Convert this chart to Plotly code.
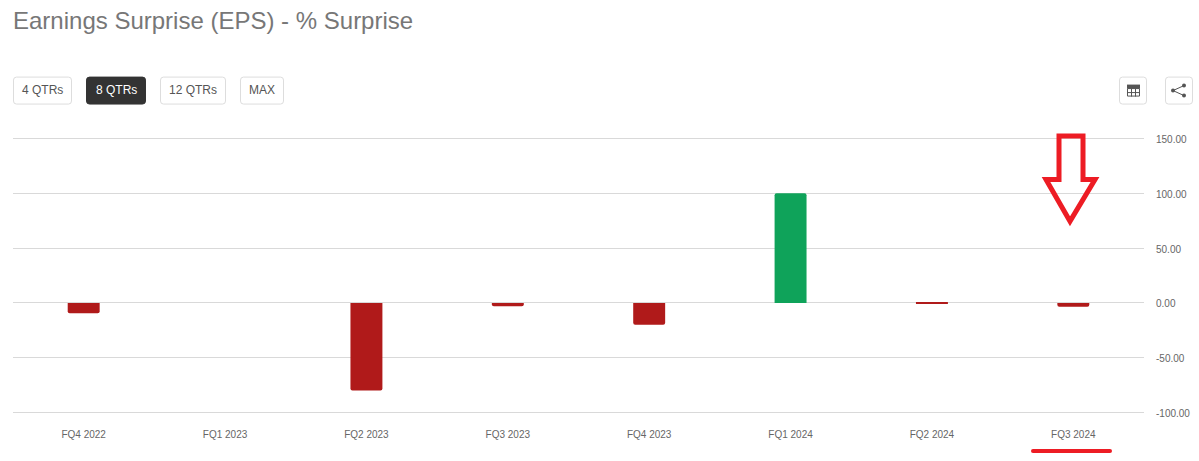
import plotly.graph_objects as go

quarters = ['FQ4 2022', 'FQ1 2023', 'FQ2 2023', 'FQ3 2023',
            'FQ4 2023', 'FQ1 2024', 'FQ2 2024', 'FQ3 2024']
surprise = [-9.5, None, -80, -3, -20, 100, -0.5, -3.5]
y_ticks = [150, 100, 50, 0, -50, -100]
y_labels = ['150.00', '100.00', '50.00', '0.00', '-50.00', '-100.00']
buttons = ['4 QTRs', '8 QTRs', '12 QTRs', 'MAX']

W, H = 1199, 461
# plot area runs a little past the outer gridlines, plotly drops gridlines on the range edge
LEFT, RIGHT, TOP, BOTTOM = 13, 1144, 132.5, 418
FONT = 'Liberation Sans'
RED = '#ed1c24'


# page pixels to paper coordinates
def px(x):
    return (x - LEFT) / (RIGHT - LEFT)


def py(y):
    return (BOTTOM - y) / (BOTTOM - TOP)


def pt(x, y):
    return f'{px(x):.5f},{py(y):.5f}'


def round_rect(x0, y0, x1, y1, r=3):
    return (f'M{pt(x0 + r, y0)} L{pt(x1 - r, y0)} Q{pt(x1, y0)} {pt(x1, y0 + r)} '
            f'L{pt(x1, y1 - r)} Q{pt(x1, y1)} {pt(x1 - r, y1)} '
            f'L{pt(x0 + r, y1)} Q{pt(x0, y1)} {pt(x0, y1 - r)} '
            f'L{pt(x0, y0 + r)} Q{pt(x0, y0)} {pt(x0 + r, y0)} Z')


def polygon(points):
    return 'M' + ' L'.join(pt(x, y) for x, y in points) + ' Z'


def path_shape(path, fill='rgba(0,0,0,0)', line='rgba(0,0,0,0)', width=1):
    return dict(type='path', xref='paper', yref='paper', path=path,
                fillcolor=fill, line=dict(color=line, width=width))


def line_shape(x0, y0, x1, y1, color, width):
    return dict(type='line', xref='paper', yref='paper',
                x0=px(x0), y0=py(y0), x1=px(x1), y1=py(y1),
                line=dict(color=color, width=width))


def circle_shape(cx, cy, r, color):
    return dict(type='circle', xref='paper', yref='paper',
                x0=px(cx - r), y0=py(cy - r), x1=px(cx + r), y1=py(cy + r),
                fillcolor=color, line=dict(width=0))


def text_note(x, y, text, size, color, anchor='center'):
    return dict(xref='paper', yref='paper', x=px(x), y=py(y), text=text,
                showarrow=False, xanchor=anchor, yanchor='middle',
                font=dict(family=FONT, size=size, color=color))


colors = ['#0fa35a' if v is not None and v > 0 else '#b01a1a' for v in surprise]

fig = go.Figure()
fig.add_trace(go.Bar(
    x=quarters,
    y=surprise,
    width=0.226,
    marker=dict(color=colors, line=dict(width=0)),
    hoverinfo='x+y'
))

shapes = []
annotations = [text_note(11, 20, 'Earnings Surprise (EPS) - % Surprise', 24, '#777777', 'left')]

# Quarter range buttons
button_edges = [(13, 72), (86, 146), (160, 226), (240, 284)]
for label, (x0, x1) in zip(buttons, button_edges):
    active = label == '8 QTRs'
    shapes.append(path_shape(round_rect(x0 + 0.5, 76.5, x1 - 0.5, 103.5),
                             fill='#333333' if active else '#ffffff',
                             line='#333333' if active else '#dddddd'))
    annotations.append(text_note((x0 + x1) / 2, 89.5, label, 12,
                                 '#ffffff' if active else '#555555'))

# Table and share icons
shapes.append(path_shape(round_rect(1119.5, 76.5, 1146.5, 103.5), fill='#ffffff', line='#dddddd'))
shapes.append(path_shape(round_rect(1165.5, 76.5, 1192.5, 103.5), fill='#ffffff', line='#dddddd'))
shapes.append(path_shape(polygon([(1127, 84), (1140, 84), (1140, 88), (1127, 88)]), fill='#555555'))
shapes.append(path_shape(polygon([(1127.5, 88), (1139.5, 88), (1139.5, 95.5), (1127.5, 95.5)]),
                         line='#555555'))
shapes.append(line_shape(1131.5, 88, 1131.5, 96, '#555555', 1))
shapes.append(line_shape(1135.5, 88, 1135.5, 96, '#555555', 1))
shapes.append(line_shape(1127, 92, 1140, 92, '#555555', 1))
shapes.append(line_shape(1173, 90, 1184, 85, '#555555', 1))
shapes.append(line_shape(1173, 90, 1184, 95, '#555555', 1))
shapes.append(circle_shape(1173, 90, 2, '#555555'))
shapes.append(circle_shape(1184, 85, 2, '#555555'))
shapes.append(circle_shape(1184, 95, 2, '#555555'))

# Hand drawn red arrow and underline
shapes.append(path_shape(polygon([(1059, 135.5), (1083, 135.5), (1083, 179), (1095, 179),
                                  (1070, 221), (1046, 179), (1059, 179)]),
                         line=RED, width=5))
shapes.append(path_shape(round_rect(1031, 449, 1112, 453, r=2), fill=RED))

fig.update_layout(
    width=W,
    height=H,
    margin=dict(l=LEFT, r=W - RIGHT, t=TOP, b=H - BOTTOM, autoexpand=False),
    paper_bgcolor='white',
    plot_bgcolor='white',
    showlegend=False,
    barcornerradius=2,
    shapes=shapes,
    annotations=annotations,
    xaxis=dict(
        type='category',
        categoryorder='array',
        categoryarray=quarters,
        range=[-0.5, 7.5],
        showgrid=False,
        zeroline=False,
        showline=False,
        ticks='',
        ticklabelstandoff=9,
        tickfont=dict(family=FONT, size=10, color='#666666')
    ),
    yaxis=dict(
        side='right',
        range=[-105, 155],
        tickvals=y_ticks,
        ticktext=y_labels,
        gridcolor='#d9d9d9',
        gridwidth=1,
        zeroline=True,
        zerolinecolor='#d9d9d9',
        zerolinewidth=1,
        showline=False,
        ticks='',
        ticklabelstandoff=11,
        ticklabelshift=1,
        tickfont=dict(family=FONT, size=10, color='#666666')
    )
)

fig.write_html('out.html', config=dict(displayModeBar=False),
               post_script="document.body.style.margin='0';")
